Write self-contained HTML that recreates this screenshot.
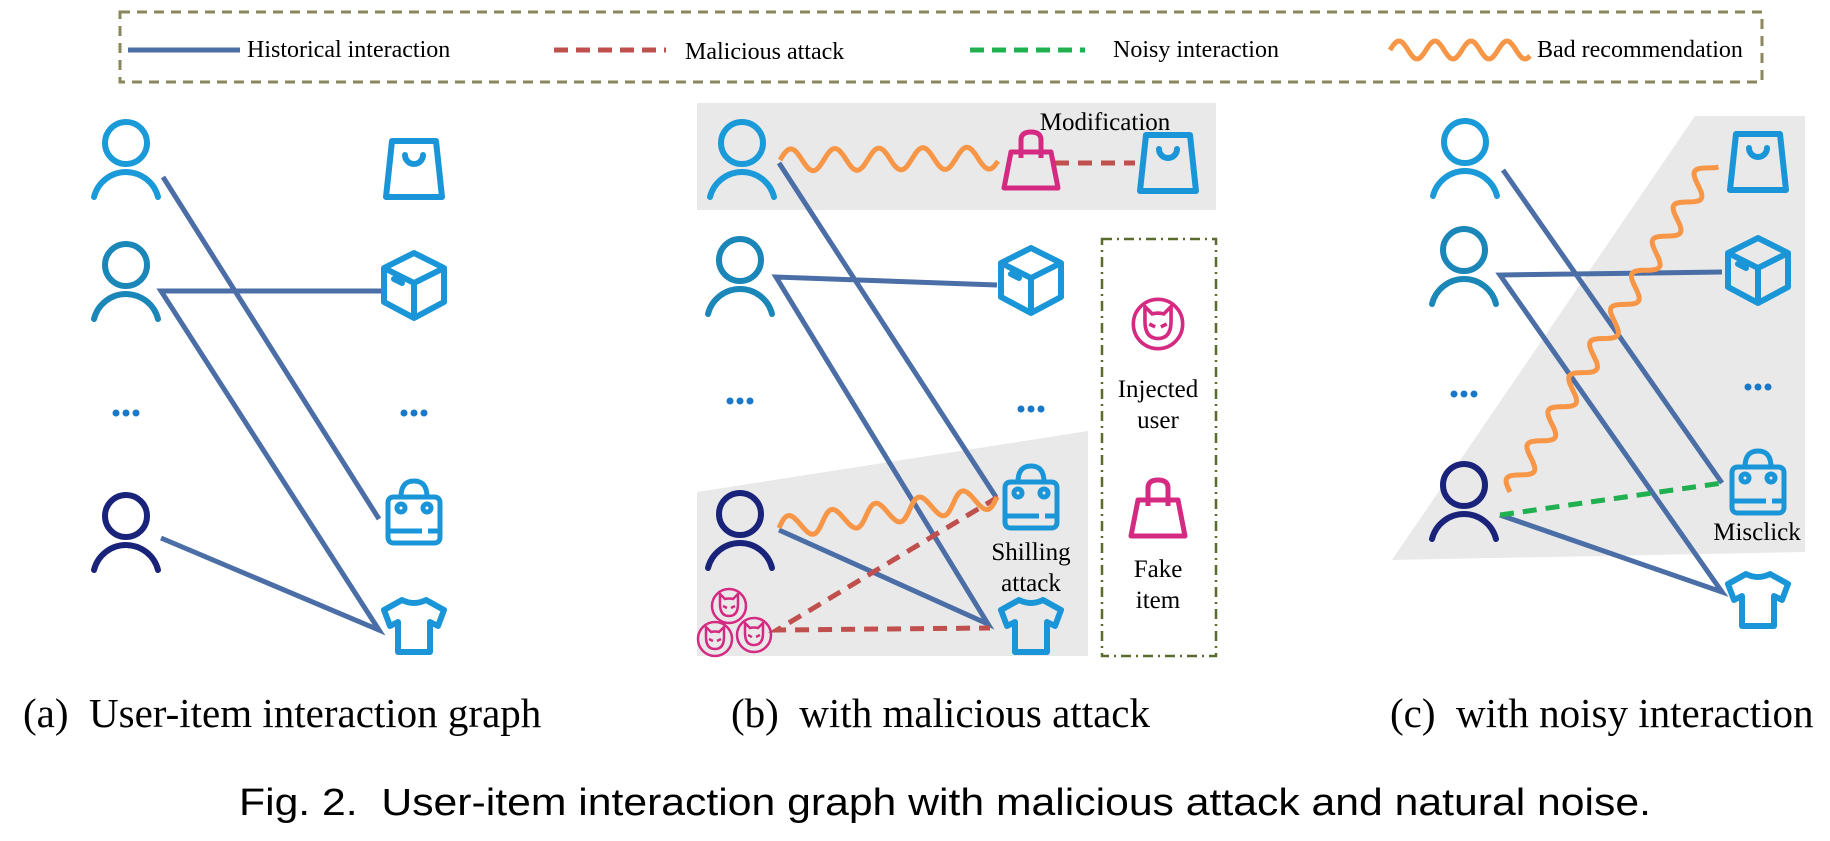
<!DOCTYPE html>
<html><head><meta charset="utf-8"><style>
html,body{margin:0;padding:0;background:#fff;}
svg{display:block}
.t{font-family:"Liberation Serif",serif;fill:#000}
</style></head><body>
<svg id="s" width="1830" height="841" viewBox="0 0 1830 841" xmlns="http://www.w3.org/2000/svg">
<defs>
<g id="user"><circle cx="0" cy="-20" r="21" fill="none" stroke-width="6"/><path d="M-32,34 A33,33 0 0 1 32,34" fill="none" stroke-width="6" stroke-linecap="round"/></g>
<g id="bag" fill="none" stroke="#1a96d8" stroke-width="6" stroke-linejoin="round"><path d="M-22,-28 L22,-28 L28,28 L-28,28 Z"/><path d="M-9,-14 A9,9 0 0 0 9,-14" stroke-linecap="round"/></g>
<g id="box" fill="none" stroke="#1a96d8" stroke-width="6" stroke-linejoin="round"><path d="M0,-32 L30,-17 L30,17 L0,33 L-30,17 L-30,-17 Z"/><path d="M-30,-17 L0,-2 L30,-17 M0,-2 L0,33"/><path d="M-20,-6 L-12,-2" stroke-linecap="round"/></g>
<g id="hb" fill="none" stroke="#1a96d8" stroke-width="5" stroke-linejoin="round"><path d="M-26,-10 Q-26,-16 -20,-16 L20,-16 Q26,-16 26,-10 L26,24 Q26,30 20,30 L-20,30 Q-26,30 -26,24 Z"/><path d="M-13,-16 Q-13,-32 0,-32 Q13,-32 13,-16"/><circle cx="-13" cy="-5" r="4"/><circle cx="13" cy="-5" r="4"/><path d="M-26,18 L8,18 M14,18 L26,18"/></g>
<g id="pb" fill="none" stroke="#d42a82" stroke-width="5" stroke-linejoin="round"><path d="M-20,-8 L20,-8 L27,28 L-27,28 Z"/><path d="M-10,-8 L-10,-20 Q-10,-28 0,-28 Q10,-28 10,-20 L10,-8 M-10,-20 L-10,-2 M10,-20 L10,-2"/></g>
<g id="shirt" fill="none" stroke="#1a96d8" stroke-width="6" stroke-linejoin="round"><path d="M-12,-24 Q0,-18 12,-24 L30,-14 L24,2 L16,-2 L16,28 L-16,28 L-16,-2 L-24,2 L-30,-14 Z"/></g>
<g id="dots" fill="#1a78c8"><circle cx="-10" cy="0" r="3.5"/><circle cx="0" cy="0" r="3.5"/><circle cx="10" cy="0" r="3.5"/></g>
<g id="devil" fill="none" stroke="#d42a82" stroke-width="2.5"><circle r="17"/><path d="M-9,-2 Q-9,-12 -9,-12 L-4,-7 Q0,-8 4,-7 L9,-12 Q9,-2 9,-2 Q9,10 0,10 Q-9,10 -9,-2Z"/><path d="M-6,0 L-2,2 M6,0 L2,2"/></g>
</defs>

<rect x="120" y="12" width="1642" height="70" fill="none" stroke="#8a875c" stroke-width="3" stroke-dasharray="10,7"/>
<line x1="128" y1="50" x2="240" y2="50" stroke="#4a6ea5" stroke-width="5"/>
<text class="t" x="247" y="57" font-size="24">Historical interaction</text>
<line x1="554" y1="50" x2="666" y2="50" stroke="#c0504d" stroke-width="5" stroke-dasharray="14,8"/>
<text class="t" x="685" y="59" font-size="24">Malicious attack</text>
<line x1="970" y1="50" x2="1085" y2="50" stroke="#1fb050" stroke-width="5" stroke-dasharray="14,8"/>
<text class="t" x="1113" y="57" font-size="24">Noisy interaction</text>
<path id="w0" fill="none" stroke="#f79646" stroke-width="5"/>
<text class="t" x="1537" y="57" font-size="24">Bad recommendation</text>

<rect x="697" y="103" width="519" height="107" fill="#e9e9e9"/>
<polygon points="697,492 1088,431 1088,656 697,656" fill="#e9e9e9"/>
<polygon points="1695,116 1805,116 1805,552 1392,560" fill="#e9e9e9"/>
<rect x="1102" y="239" width="114" height="417" fill="none" stroke="#5a6b2e" stroke-width="2.5" stroke-dasharray="10,5,2,5"/>

<g stroke="#4a6ea5" stroke-width="5" fill="none">
<path d="M163,177 L379,519 M382,291 L161,291 L379,630 L161,538"/>
<path d="M779,163 L996,497 M997,285 L776,277 L988,624 L779,530"/>
<path d="M1503,170 L1722,483 M1722,272 L1500,275 L1722,592 L1500,515"/>
</g>
<g stroke="#c0504d" stroke-width="5" fill="none" stroke-dasharray="14,9">
<path d="M998,497 L777,630 L990,628"/>
<path d="M1055,163 L1135,163"/>
</g>
<line x1="1500" y1="515" x2="1722" y2="483" stroke="#1fb050" stroke-width="5" stroke-dasharray="14,9"/>
<path id="w1" fill="none" stroke="#f79646" stroke-width="5"/>
<path id="w2" fill="none" stroke="#f79646" stroke-width="5"/>
<path id="w3" fill="none" stroke="#f79646" stroke-width="5"/>

<use href="#user" x="126" y="163" stroke="#1a9ad8"/>
<use href="#user" x="126" y="285" stroke="#1b86b8"/>
<use href="#dots" x="126" y="413"/>
<use href="#user" x="126" y="536" stroke="#1a237a"/>
<use href="#user" x="742" y="163" stroke="#1a9ad8"/>
<use href="#user" x="740" y="280" stroke="#1b86b8"/>
<use href="#dots" x="740" y="401"/>
<use href="#user" x="740" y="534" stroke="#1a237a"/>
<use href="#user" x="1465" y="162" stroke="#1a9ad8"/>
<use href="#user" x="1464" y="270" stroke="#1b86b8"/>
<use href="#dots" x="1464" y="394"/>
<use href="#user" x="1464" y="505" stroke="#1a237a"/>

<use href="#bag" x="414" y="169"/><use href="#box" x="414" y="285"/><use href="#dots" x="414" y="413"/><use href="#hb" x="414" y="513"/><use href="#shirt" x="414" y="624"/>
<use href="#pb" x="1031" y="160"/><use href="#bag" x="1168" y="163"/><use href="#box" x="1031" y="280"/><use href="#dots" x="1031" y="409"/><use href="#hb" x="1031" y="498"/><use href="#shirt" x="1031" y="624"/>
<use href="#bag" x="1758" y="162"/><use href="#box" x="1758" y="270"/><use href="#dots" x="1758" y="387"/><use href="#hb" x="1758" y="483"/><use href="#shirt" x="1758" y="598"/>
<g transform="translate(1158,324) scale(1.45)"><use href="#devil"/></g>
<use href="#pb" x="1158" y="508"/>
<use href="#devil" x="729" y="606"/><use href="#devil" x="715" y="639"/><use href="#devil" x="754" y="635"/>

<text class="t" x="1105" y="130" font-size="25" text-anchor="middle">Modification</text>
<text class="t" x="1158" y="397" font-size="25" text-anchor="middle">Injected</text>
<text class="t" x="1158" y="428" font-size="25" text-anchor="middle">user</text>
<text class="t" x="1158" y="577" font-size="25" text-anchor="middle">Fake</text>
<text class="t" x="1158" y="608" font-size="25" text-anchor="middle">item</text>
<text class="t" x="1031" y="560" font-size="25" text-anchor="middle">Shilling</text>
<text class="t" x="1031" y="591" font-size="25" text-anchor="middle">attack</text>
<text class="t" x="1757" y="540" font-size="25" text-anchor="middle">Misclick</text>

<text class="t" x="23" y="727" font-size="41" xml:space="preserve">(a)  User-item interaction graph</text>
<text class="t" x="731" y="727" font-size="41" xml:space="preserve">(b)  with malicious attack</text>
<text class="t" x="1390" y="727" font-size="41" xml:space="preserve">(c)  with noisy interaction</text>
<text x="239" y="815" font-size="38" font-family="Liberation Sans, sans-serif" textLength="1412" lengthAdjust="spacingAndGlyphs" xml:space="preserve">Fig. 2.  User-item interaction graph with malicious attack and natural noise.</text>
</svg>
<script>
function wave(id,x1,y1,x2,y2,amp,wl){
 var dx=x2-x1,dy=y2-y1,L=Math.hypot(dx,dy),ux=dx/L,uy=dy/L,nx=-uy,ny=ux,d="";
 for(var s=0;s<=L;s+=2){var o=-amp*Math.sin(2*Math.PI*s/wl);var x=x1+ux*s+nx*o,y=y1+uy*s+ny*o;d+=(s?"L":"M")+x.toFixed(1)+","+y.toFixed(1);}
 document.getElementById(id).setAttribute("d",d);
}
wave("w0",1390,50,1530,50,9,36);
wave("w1",780,160,998,158,11,44);
wave("w2",779,528,998,497,11,44);
wave("w3",1510,492,1712,162,10,40);
</script>
</body></html>
